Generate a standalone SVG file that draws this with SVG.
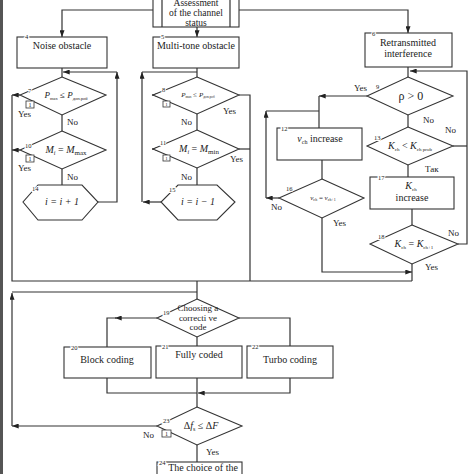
<svg xmlns="http://www.w3.org/2000/svg" width="474" height="474" viewBox="0 0 474 474">
<defs>
<marker id="a" viewBox="0 0 8 6" refX="8" refY="3" markerWidth="7" markerHeight="5" markerUnits="userSpaceOnUse" orient="auto"><path d="M0,0 L8,3 L0,6 z" fill="#222"/></marker>
</defs>
<style>
.s{fill:#fff;stroke:#333;stroke-width:1.1}
.c{fill:none;stroke:#333;stroke-width:1.2}
.ca{fill:none;stroke:#333;stroke-width:1.2;marker-end:url(#a)}
text{font-family:"Liberation Serif","DejaVu Serif",serif;fill:#222}
.t{font-size:10px;text-anchor:middle}
.n{font-size:6.5px;stroke:#fff;stroke-width:2;paint-order:stroke}
.l{font-size:9px}
.i{font-style:italic}
.sb{fill:#fff;stroke:#333;stroke-width:0.8}
</style>
<rect width="474" height="474" fill="#fff"/>
<rect x="0" y="0" width="3" height="474" fill="#555"/>

<g id="connectors">
<path class="ca" d="M153,10 H62 V37"/>
<path class="ca" d="M197,27 V37"/>
<path class="ca" d="M239,10 H408 V33"/>
<path class="c" d="M62,68 V77"/>
<path class="ca" d="M98,202 H117 V72"/>
<path class="ca" d="M117,72 H63"/>
<path class="ca" d="M20,95 H12"/>
<path class="ca" d="M20,150 H12"/>
<path class="c" d="M12,95 V281 H412"/>
<path class="c" d="M62,115 V131"/>
<path class="c" d="M62,169 V185"/>
<path class="c" d="M197,68 V77"/>
<path class="ca" d="M161,202 H143"/>
<path class="ca" d="M142,202 V72"/>
<path class="c" d="M142,72 H197"/>
<path class="ca" d="M158,95 H152"/>
<path class="ca" d="M158,149 H152"/>
<path class="c" d="M197,114 V130"/>
<path class="c" d="M197,168 V185"/>
<path class="c" d="M239,95 H250 V281"/>
<path class="c" d="M239,149 H250"/>
<path class="c" d="M408,67 V77"/>
<path class="ca" d="M458,244 H467 V71 H410"/>
<path class="c" d="M453,146 H467"/>
<path class="ca" d="M367,96 H319"/>
<path class="c" d="M319,96 V128"/>
<path class="c" d="M408,115 V127"/>
<path class="c" d="M408,165 V177"/>
<path class="c" d="M322,160 V179"/>
<path class="ca" d="M279,198 H266"/>
<path class="ca" d="M266,198 V111"/>
<path class="c" d="M266,111 H319"/>
<path class="ca" d="M322,218 V272 H412"/>
<path class="c" d="M412,209 V225"/>
<path class="c" d="M412,264 V281"/>
<path class="c" d="M197,281 V299"/>
<path class="ca" d="M157,426 H12"/>
<path class="ca" d="M12,426 V293"/>
<path class="c" d="M12,292 H197"/>
<path class="ca" d="M157,318 H115"/>
<path class="c" d="M116,318 H107 V347"/>
<path class="c" d="M239,318 H290 V346"/>
<path class="c" d="M197,337 V346"/>
<path class="c" d="M107,378 V393 H197"/>
<path class="ca" d="M290,378 V393 H198"/>
<path class="c" d="M197,378 V407"/>
<path class="c" d="M197,445 V462"/>
</g>

<g id="n3">
<rect class="s" x="153" y="-10" width="86" height="37"/>
<path class="c" d="M162,-10 V27 M230,-10 V27"/>
<text class="t" x="196" y="6" style="font-size:9.5px">Assessment</text>
<text class="t" x="196" y="16" style="font-size:9.5px">of the channel</text>
<text class="t" x="196" y="25.5" style="font-size:9.5px">status</text>
</g>

<g id="n4">
<rect class="s" x="17" y="37" width="90" height="31"/>
<text class="n" x="25" y="38.5">4</text>
<text class="t" x="62" y="48.5">Noise obstacle</text>
</g>

<g id="n5">
<rect class="s" x="153" y="37" width="86" height="31"/>
<text class="n" x="161" y="38.5">5</text>
<text class="t" x="196" y="48.5">Multi-tone obstacle</text>
</g>

<g id="n6">
<rect class="s" x="365" y="33" width="87" height="34"/>
<text class="n" x="372" y="35.5">6</text>
<text class="t" x="408" y="46">Retransmitted</text>
<text class="t" x="408" y="57">interference</text>
</g>

<g id="n7">
<polygon class="s" points="62,77 106,95 62,115 20,95"/>
<text class="n" x="28" y="93">7</text>
<text class="t" x="66" y="98" style="font-size:9px"><tspan class="i">P</tspan><tspan font-size="4.5" dy="1.5">max</tspan><tspan dy="-1.5"> ≤ </tspan><tspan class="i">P</tspan><tspan font-size="4.5" dy="1.5">доп.роб</tspan></text>
<rect class="sb" x="26" y="101" width="8" height="7"/>
<text x="30" y="107" style="font-size:6px;text-anchor:middle">1</text>
<text class="l" x="18" y="117">Yes</text>
<text class="l" x="67" y="125">No</text>
</g>

<g id="n10">
<polygon class="s" points="62,131 106,150 62,169 20,150"/>
<text class="n" x="25" y="148">10</text>
<text class="t" x="66" y="153"><tspan class="i">M</tspan><tspan font-size="6" dy="2" class="i">i</tspan><tspan dy="-2"> = </tspan><tspan class="i">M</tspan><tspan font-size="7" dy="2">max</tspan></text>
<rect class="sb" x="26" y="155" width="8" height="7"/>
<text x="30" y="161" style="font-size:6px;text-anchor:middle">1</text>
<text class="l" x="18" y="171">Yes</text>
<text class="l" x="67" y="180">No</text>
</g>

<g id="n14">
<polygon class="s" points="38,185 82,185 98,202 82,220 38,220 23,202"/>
<text class="n" x="32" y="191">14</text>
<text class="t i" x="62" y="205">i = i + 1</text>
</g>

<g id="n8">
<polygon class="s" points="197,77 239,95 197,114 153,95"/>
<text class="n" x="162" y="92">8</text>
<text class="t" x="198" y="97" style="font-size:7px"><tspan class="i">P</tspan><tspan font-size="3.5" dy="1">max</tspan><tspan dy="-1"> ≤ </tspan><tspan class="i">P</tspan><tspan font-size="3.5" dy="1">доп.роб</tspan></text>
<rect class="sb" x="163" y="101" width="7" height="6"/>
<text x="166.5" y="106" style="font-size:5px;text-anchor:middle">1</text>
<text class="l" x="223" y="114">Yes</text>
<text class="l" x="181" y="125">No</text>
</g>

<g id="n11">
<polygon class="s" points="197,130 239,149 197,168 153,149"/>
<text class="n" x="160" y="145">11</text>
<text class="t" x="199" y="152"><tspan class="i">M</tspan><tspan font-size="6" dy="2" class="i">i</tspan><tspan dy="-2"> = </tspan><tspan class="i">M</tspan><tspan font-size="7" dy="2">min</tspan></text>
<rect class="sb" x="163" y="155" width="7" height="6"/>
<text x="166.5" y="160" style="font-size:5px;text-anchor:middle">1</text>
<text class="l" x="230" y="162">Yes</text>
<text class="l" x="181" y="180">No</text>
</g>

<g id="n15">
<polygon class="s" points="178,185 217,185 235,202 217,220 178,220 161,202"/>
<text class="n" x="169" y="192">15</text>
<text class="t i" x="198" y="205">i = i − 1</text>
</g>

<g id="n9">
<polygon class="s" points="408,77 453,96 408,115 367,96"/>
<text class="n" x="376" y="89">9</text>
<text class="t" x="411" y="100" style="font-size:12px">ρ &gt; 0</text>
<text class="l" x="354" y="91">Yes</text>
<text class="l" x="423" y="123">No</text>
</g>

<g id="n13">
<polygon class="s" points="408,127 453,146 408,165 367,146"/>
<text class="n" x="374" y="140">13</text>
<text class="t" x="410" y="149"><tspan class="i">K</tspan><tspan font-size="5" dy="1.5">ch</tspan><tspan dy="-1.5"> &lt; </tspan><tspan class="i">K</tspan><tspan font-size="5" dy="1.5">ch prob</tspan></text>
<text class="l" x="445" y="133">No</text>
<text class="l" x="425" y="172">Так</text>
</g>

<g id="n12">
<rect class="s" x="277" y="128" width="85" height="32"/>
<text class="n" x="281" y="130.5">12</text>
<text class="t" x="320" y="142"><tspan class="i">v</tspan><tspan font-size="6" dy="2">ch</tspan><tspan dy="-2"> increase</tspan></text>
</g>

<g id="n16">
<polygon class="s" points="322,179 364,198 322,218 279,198"/>
<text class="n" x="286" y="191">16</text>
<text class="t" x="323" y="200" style="font-size:7px"><tspan class="i">v</tspan><tspan font-size="4" dy="1">ch</tspan><tspan dy="-1"> = </tspan><tspan class="i">v</tspan><tspan font-size="4" dy="1">ch+1</tspan></text>
<text class="l" x="271" y="210">No</text>
<text class="l" x="333" y="226">Yes</text>
</g>

<g id="n17">
<rect class="s" x="370" y="177" width="84" height="32"/>
<text class="n" x="378" y="179.5">17</text>
<text class="t" x="411" y="189"><tspan class="i">K</tspan><tspan font-size="5" dy="1.5">ch</tspan></text>
<text class="t" x="412" y="201">increase</text>
</g>

<g id="n18">
<polygon class="s" points="412,225 458,244 412,264 370,244"/>
<text class="n" x="378" y="239">18</text>
<text class="t" x="414" y="247"><tspan class="i">K</tspan><tspan font-size="5" dy="1.5">ch</tspan><tspan dy="-1.5"> = </tspan><tspan class="i">K</tspan><tspan font-size="5" dy="1.5">ch+1</tspan></text>
<text class="l" x="448" y="236">No</text>
<text class="l" x="425" y="270">Yes</text>
</g>

<g id="n19">
<polygon class="s" points="197,299 239,318 197,337 157,318"/>
<text class="n" x="163" y="315">19</text>
<text class="t" x="198" y="311" style="font-size:9px">Choosing a</text>
<text class="t" x="198" y="320.5" style="font-size:9px">correcti ve</text>
<text class="t" x="198" y="330" style="font-size:9px">code</text>
</g>

<g id="n20">
<rect class="s" x="64" y="347" width="87" height="31"/>
<text class="n" x="71" y="349.5">20</text>
<text class="t" x="107" y="363">Block coding</text>
</g>

<g id="n21">
<rect class="s" x="156" y="346" width="86" height="32"/>
<text class="n" x="162" y="348.5">21</text>
<text class="t" x="199" y="358">Fully coded</text>
</g>

<g id="n22">
<rect class="s" x="247" y="346" width="86" height="32"/>
<text class="n" x="252" y="348.5">22</text>
<text class="t" x="290" y="363">Turbo coding</text>
</g>

<g id="n23">
<polygon class="s" points="197,407 242,426 197,445 157,426"/>
<text class="n" x="163" y="423">23</text>
<text class="t" x="201" y="429"><tspan>Δ</tspan><tspan class="i">f</tspan><tspan font-size="6" dy="2">s</tspan><tspan dy="-2"> ≤ Δ</tspan><tspan class="i">F</tspan></text>
<rect class="sb" x="162" y="430" width="9" height="7"/>
<text x="166.5" y="436" style="font-size:6px;text-anchor:middle">1</text>
<text class="l" x="143" y="438">No</text>
<text class="l" x="206" y="455">Yes</text>
</g>

<g id="n24">
<rect class="s" x="157" y="462" width="85" height="20"/>
<text class="n" x="159" y="465">24</text>
<text class="t" x="203" y="471">The choice of the</text>
</g>
</svg>
